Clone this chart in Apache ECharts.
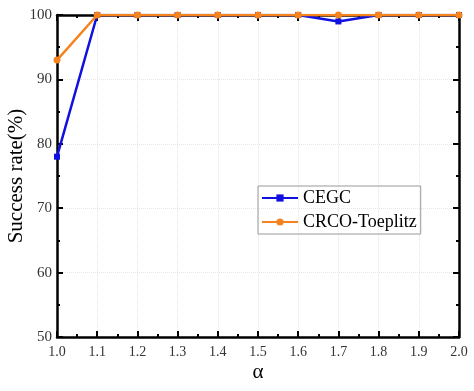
<!DOCTYPE html>
<html><head><meta charset="utf-8">
<script src="https://cdn.jsdelivr.net/npm/echarts@6/dist/echarts.min.js"></script>
<style>html,body{margin:0;padding:0;background:#fff}#c{width:474px;height:391px}</style>
</head><body><div id="c"></div>
<script>
const alphaValues = [1.0, 1.1, 1.2, 1.3, 1.4, 1.5, 1.6, 1.7, 1.8, 1.9, 2.0];
const cegc = [78, 100, 100, 100, 100, 100, 100, 99, 100, 100, 100];
const crco = [93, 100, 100, 100, 100, 100, 100, 100, 100, 100, 100];
const seriesNames = ['CEGC', 'CRCO-Toeplitz'];
const seriesColors = ['#1010e0', '#f5841f'];

const font = 'Liberation Serif';
const chart = echarts.init(document.getElementById('c'));
const axisLine = {show: true, onZero: false, lineStyle: {color: '#000', width: 2.5}};
const tick = {show: true, inside: true, length: 6, lineStyle: {color: '#000', width: 2}};
const minor = {show: true, splitNumber: 2, length: 3, lineStyle: {color: '#000', width: 2}};
const split = {show: true, lineStyle: {color: '#e6e6e6', type: 'dotted', width: 1}};
chart.setOption({
  animation: false,
  grid: {left: 57, right: 15, top: 15, bottom: 54, containLabel: false, outerBoundsMode: 'none'},
  legend: {
    data: seriesNames,
    left: 258, top: 186, orient: 'vertical',
    borderColor: '#999', borderWidth: 1, padding: [3, 4, 3, 3],
    itemWidth: 36, itemHeight: 9, itemGap: 6,
    textStyle: {fontFamily: font, fontSize: 18, color: '#000'}
  },
  xAxis: [{
    type: 'value', min: 1, max: 2, interval: 0.1,
    name: 'α', nameLocation: 'middle', nameGap: 25, nameMoveOverlap: false,
    nameTextStyle: {fontFamily: font, fontSize: 21, color: '#000'},
    axisLine, axisTick: tick, minorTick: minor, splitLine: split,
    axisLabel: {formatter: v => v.toFixed(1), fontFamily: font, fontSize: 14, color: '#333', margin: 8}
  }, {
    type: 'value', min: 1, max: 2, interval: 0.1, position: 'top',
    axisLine, axisTick: tick, minorTick: minor, splitLine: {show: false}, axisLabel: {show: false}
  }],
  yAxis: [{
    type: 'value', min: 50, max: 100, interval: 10,
    name: 'Success rate(%)', nameLocation: 'middle', nameGap: 30, nameMoveOverlap: false,
    nameTextStyle: {fontFamily: font, fontSize: 21, color: '#000'},
    axisLine, axisTick: tick, minorTick: minor, splitLine: split,
    axisLabel: {fontFamily: font, fontSize: 15, color: '#333', margin: 5}
  }, {
    type: 'value', min: 50, max: 100, interval: 10, position: 'right',
    axisLine, axisTick: tick, minorTick: minor, splitLine: {show: false}, axisLabel: {show: false}
  }],
  series: [{
    name: seriesNames[0], type: 'line', data: alphaValues.map((a, i) => [a, cegc[i]]),
    symbol: 'rect', symbolSize: 6, color: seriesColors[0],
    lineStyle: {width: 2.5}, z: 3
  }, {
    name: seriesNames[1], type: 'line', data: alphaValues.map((a, i) => [a, crco[i]]),
    symbol: 'circle', symbolSize: 7, color: seriesColors[1],
    lineStyle: {width: 2.5}, z: 4
  }]
});
</script></body></html>
